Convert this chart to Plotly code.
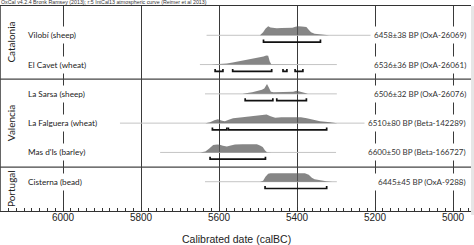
import plotly.graph_objects as go

# ---------------- data ----------------
regions = ["Catalonia", "Valencia", "Portugal"]
region_rows = [2, 3, 1]
samples = ["Vilobí (sheep)", "El Cavet (wheat)", "La Sarsa (sheep)",
           "La Falguera (wheat)", "Mas d'Is (barley)", "Cisterna (bead)"]
dates = ["6458±38 BP (OxA-26069)", "6536±36 BP (OxA-26061)", "6506±32 BP (OxA-26076)",
         "6510±80 BP (Beta-142289)", "6600±50 BP (Beta-166727)", "6445±45 BP (OxA-9288)"]

# calibrated probability curves (years cal BC, relative probability)
vilobi_years = [5495, 5487, 5481, 5474, 5468, 5460, 5452, 5440, 5425, 5412, 5404, 5398, 5388, 5376, 5370, 5364, 5355, 5340, 5328, 5318]
vilobi_prob  = [0.0, 0.3, 0.65, 0.92, 0.78, 0.72, 0.7, 0.74, 0.73, 0.76, 0.85, 0.9, 0.87, 0.82, 0.55, 0.3, 0.15, 0.08, 0.03, 0.0]

elcavet_years = [5620, 5600, 5580, 5565, 5550, 5535, 5520, 5505, 5495, 5486, 5479, 5474, 5470, 5466, 5450, 5432, 5415, 5398, 5380, 5370]
elcavet_prob  = [0.0, 0.04, 0.12, 0.2, 0.3, 0.4, 0.5, 0.6, 0.68, 0.8, 0.92, 0.88, 0.3, 0.03, 0.02, 0.03, 0.02, 0.03, 0.01, 0.0]

lasarsa_years = [5540, 5530, 5515, 5500, 5490, 5484, 5480, 5477, 5473, 5467, 5460, 5445, 5431, 5420, 5410, 5401, 5392, 5382, 5372]
lasarsa_prob  = [0.0, 0.05, 0.15, 0.3, 0.4, 0.55, 0.88, 1.0, 0.7, 0.2, 0.15, 0.15, 0.18, 0.15, 0.2, 0.3, 0.2, 0.08, 0.0]

falguera_years = [5635, 5623, 5612, 5603, 5592, 5585, 5575, 5564, 5540, 5521, 5500, 5485, 5478, 5468, 5456, 5440, 5426, 5410, 5401, 5390, 5375, 5360, 5341, 5315, 5297]
falguera_prob  = [0.0, 0.1, 0.3, 0.4, 0.25, 0.2, 0.35, 0.5, 0.6, 0.68, 0.74, 0.8, 0.86, 0.7, 0.55, 0.58, 0.6, 0.63, 0.65, 0.6, 0.5, 0.35, 0.2, 0.08, 0.0]

masdis_years = [5648, 5635, 5625, 5615, 5605, 5598, 5590, 5580, 5570, 5559, 5540, 5520, 5503, 5495, 5488, 5482, 5477, 5465]
masdis_prob  = [0.0, 0.1, 0.4, 0.75, 0.8, 0.78, 0.68, 0.6, 0.7, 0.8, 0.83, 0.83, 0.82, 0.7, 0.55, 0.2, 0.02, 0.0]

cisterna_years = [5495, 5487, 5481, 5474, 5468, 5450, 5430, 5410, 5395, 5380, 5370, 5362, 5355, 5340, 5325, 5310]
cisterna_prob  = [0.0, 0.1, 0.5, 0.8, 0.85, 0.85, 0.87, 0.88, 0.87, 0.85, 0.7, 0.4, 0.25, 0.12, 0.04, 0.0]

curve_years = [vilobi_years, elcavet_years, lasarsa_years, falguera_years, masdis_years, cisterna_years]
curve_prob = [vilobi_prob, elcavet_prob, lasarsa_prob, falguera_prob, masdis_prob, cisterna_prob]

# extent of the plotted likelihood baseline (cal BC)
line_start = [5632, 5649, 5636, 5854, 5751, 5636]
line_end = [5203, 5298, 5298, 5200, 5300, 5298]

# 95.4% probability ranges (cal BC)
vilobi_ranges = [(5486, 5340)]
elcavet_ranges = [(5610, 5590), (5565, 5465), (5436, 5426), (5405, 5385)]
lasarsa_ranges = [(5533, 5462), (5452, 5376)]
falguera_ranges = [(5617, 5580), (5576, 5324)]
masdis_ranges = [(5623, 5481)]
cisterna_ranges = [(5482, 5324)]
ranges = [vilobi_ranges, elcavet_ranges, lasarsa_ranges, falguera_ranges, masdis_ranges, cisterna_ranges]

x_ticks = [6000, 5800, 5600, 5400, 5200, 5000]
title_text = "OxCal v4.2.4 Bronk Ramsey (2013); r:5 IntCal13 atmospheric curve (Reimer et al 2013)"
x_title = "Calibrated date (calBC)"

# ---------------- style ----------------
DENS_SCALE = 0.34      # row units per unit of probability
BR_OFF = 0.232         # bracket offset below baseline (row units)
BR_TICK = 0.085        # bracket end tick height
LABEL_FONT = "Lato"
AX_FONT = "Liberation Sans"

fig = go.Figure()

# baselines
for i in range(len(samples)):
    fig.add_trace(go.Scatter(x=[line_start[i], line_end[i]], y=[i, i], mode="lines",
                             line=dict(color="#c4c4c4", width=1), hoverinfo="skip", showlegend=False))

# density curves
for i in range(len(samples)):
    ys = [i - DENS_SCALE * p for p in curve_prob[i]]
    xs = list(curve_years[i]) + list(reversed(curve_years[i]))
    yy = ys + [i] * len(curve_years[i])
    fig.add_trace(go.Scatter(x=xs, y=yy, mode="lines", fill="toself",
                             fillcolor="rgba(88,88,88,0.72)", line=dict(width=0, color="rgba(0,0,0,0)"),
                             hoverinfo="skip", showlegend=False))

# range brackets
bx, by = [], []
for i, rr in enumerate(ranges):
    yb = i + BR_OFF
    for a, b in rr:
        bx += [a, a, b, b, None]
        by += [yb - BR_TICK, yb, yb, yb - BR_TICK, None]
fig.add_trace(go.Scatter(x=bx, y=by, mode="lines", line=dict(color="#111", width=1.7),
                         hoverinfo="skip", showlegend=False))

annotations = []
# sample labels (left) and date labels (right)
for i in range(len(samples)):
    annotations.append(dict(text=samples[i], xref="paper", x=0, xshift=22.5, xanchor="left",
                            yref="y", y=i, yanchor="middle", showarrow=False, bgcolor="white",
                            borderpad=3, font=dict(family=LABEL_FONT, size=8.2, color="#222")))
    annotations.append(dict(text=dates[i], xref="paper", x=1, xshift=-1.5, xanchor="right",
                            yref="y", y=i, yanchor="middle", showarrow=False, bgcolor="white",
                            borderpad=3, font=dict(family=LABEL_FONT, size=8.0, color="#333")))

# region labels and separators
shapes = []
bounds = [-1]
acc = 0
for n in region_rows:
    acc += n
    bounds.append(acc - 0.5)
bounds[-1] = len(samples)
for k, reg in enumerate(regions):
    annotations.append(dict(text=reg, textangle=-90, xref="paper", x=0, xshift=10, xanchor="center",
                            yref="y", y=(bounds[k] + bounds[k + 1]) / 2, yanchor="middle",
                            showarrow=False, font=dict(family=LABEL_FONT, size=10, color="#222")))
for b in bounds[1:-1]:
    shapes.append(dict(type="line", xref="paper", x0=-0.003, x1=1, yref="y", y0=b, y1=b,
                       line=dict(color="#444", width=1.2), layer="above"))

# right grey strip
shapes.append(dict(type="rect", xref="paper", x0=1.0, x1=1.01, yref="paper", y0=-0.02, y1=1,
                   fillcolor="#e6e6e6", line=dict(width=0), layer="above"))

# header and axis title
annotations.append(dict(text=title_text, xref="paper", x=0, xshift=-1, xanchor="left",
                        yref="paper", y=1, yanchor="bottom", yshift=-0.5, showarrow=False, borderpad=0,
                        font=dict(family="Liberation Sans Narrow, Liberation Sans", size=5.3, color="#333")))
annotations.append(dict(text=x_title, xref="paper", x=0.5, xanchor="center",
                        yref="paper", y=0, yanchor="top", yshift=-20, showarrow=False,
                        font=dict(family=AX_FONT, size=10.5, color="#222")))

fig.update_layout(
    width=474, height=245,
    margin=dict(l=1, r=3, t=6, b=34),
    paper_bgcolor="white", plot_bgcolor="white",
    showlegend=False,
    annotations=annotations, shapes=shapes,
    xaxis=dict(range=[6159, 4954], tickvals=x_ticks, ticktext=[str(v) for v in x_ticks],
               ticks="inside", ticklen=4, tickcolor="#333", tickwidth=1, ticklabelstandoff=-3,
               minor=dict(dtick=20, ticks="inside", ticklen=3, tickcolor="#333", showgrid=False),
               showgrid=True, gridcolor="#3a3a3a", gridwidth=1,
               showline=True, linecolor="#333", linewidth=1.2, mirror=True,
               zeroline=False, tickfont=dict(family=AX_FONT, size=10, color="#222")),
    yaxis=dict(range=[6, -1], showticklabels=False, ticks="", showgrid=False, zeroline=False,
               showline=True, linecolor="#666", linewidth=2, mirror=False),
)

fig.write_html("out.html")
